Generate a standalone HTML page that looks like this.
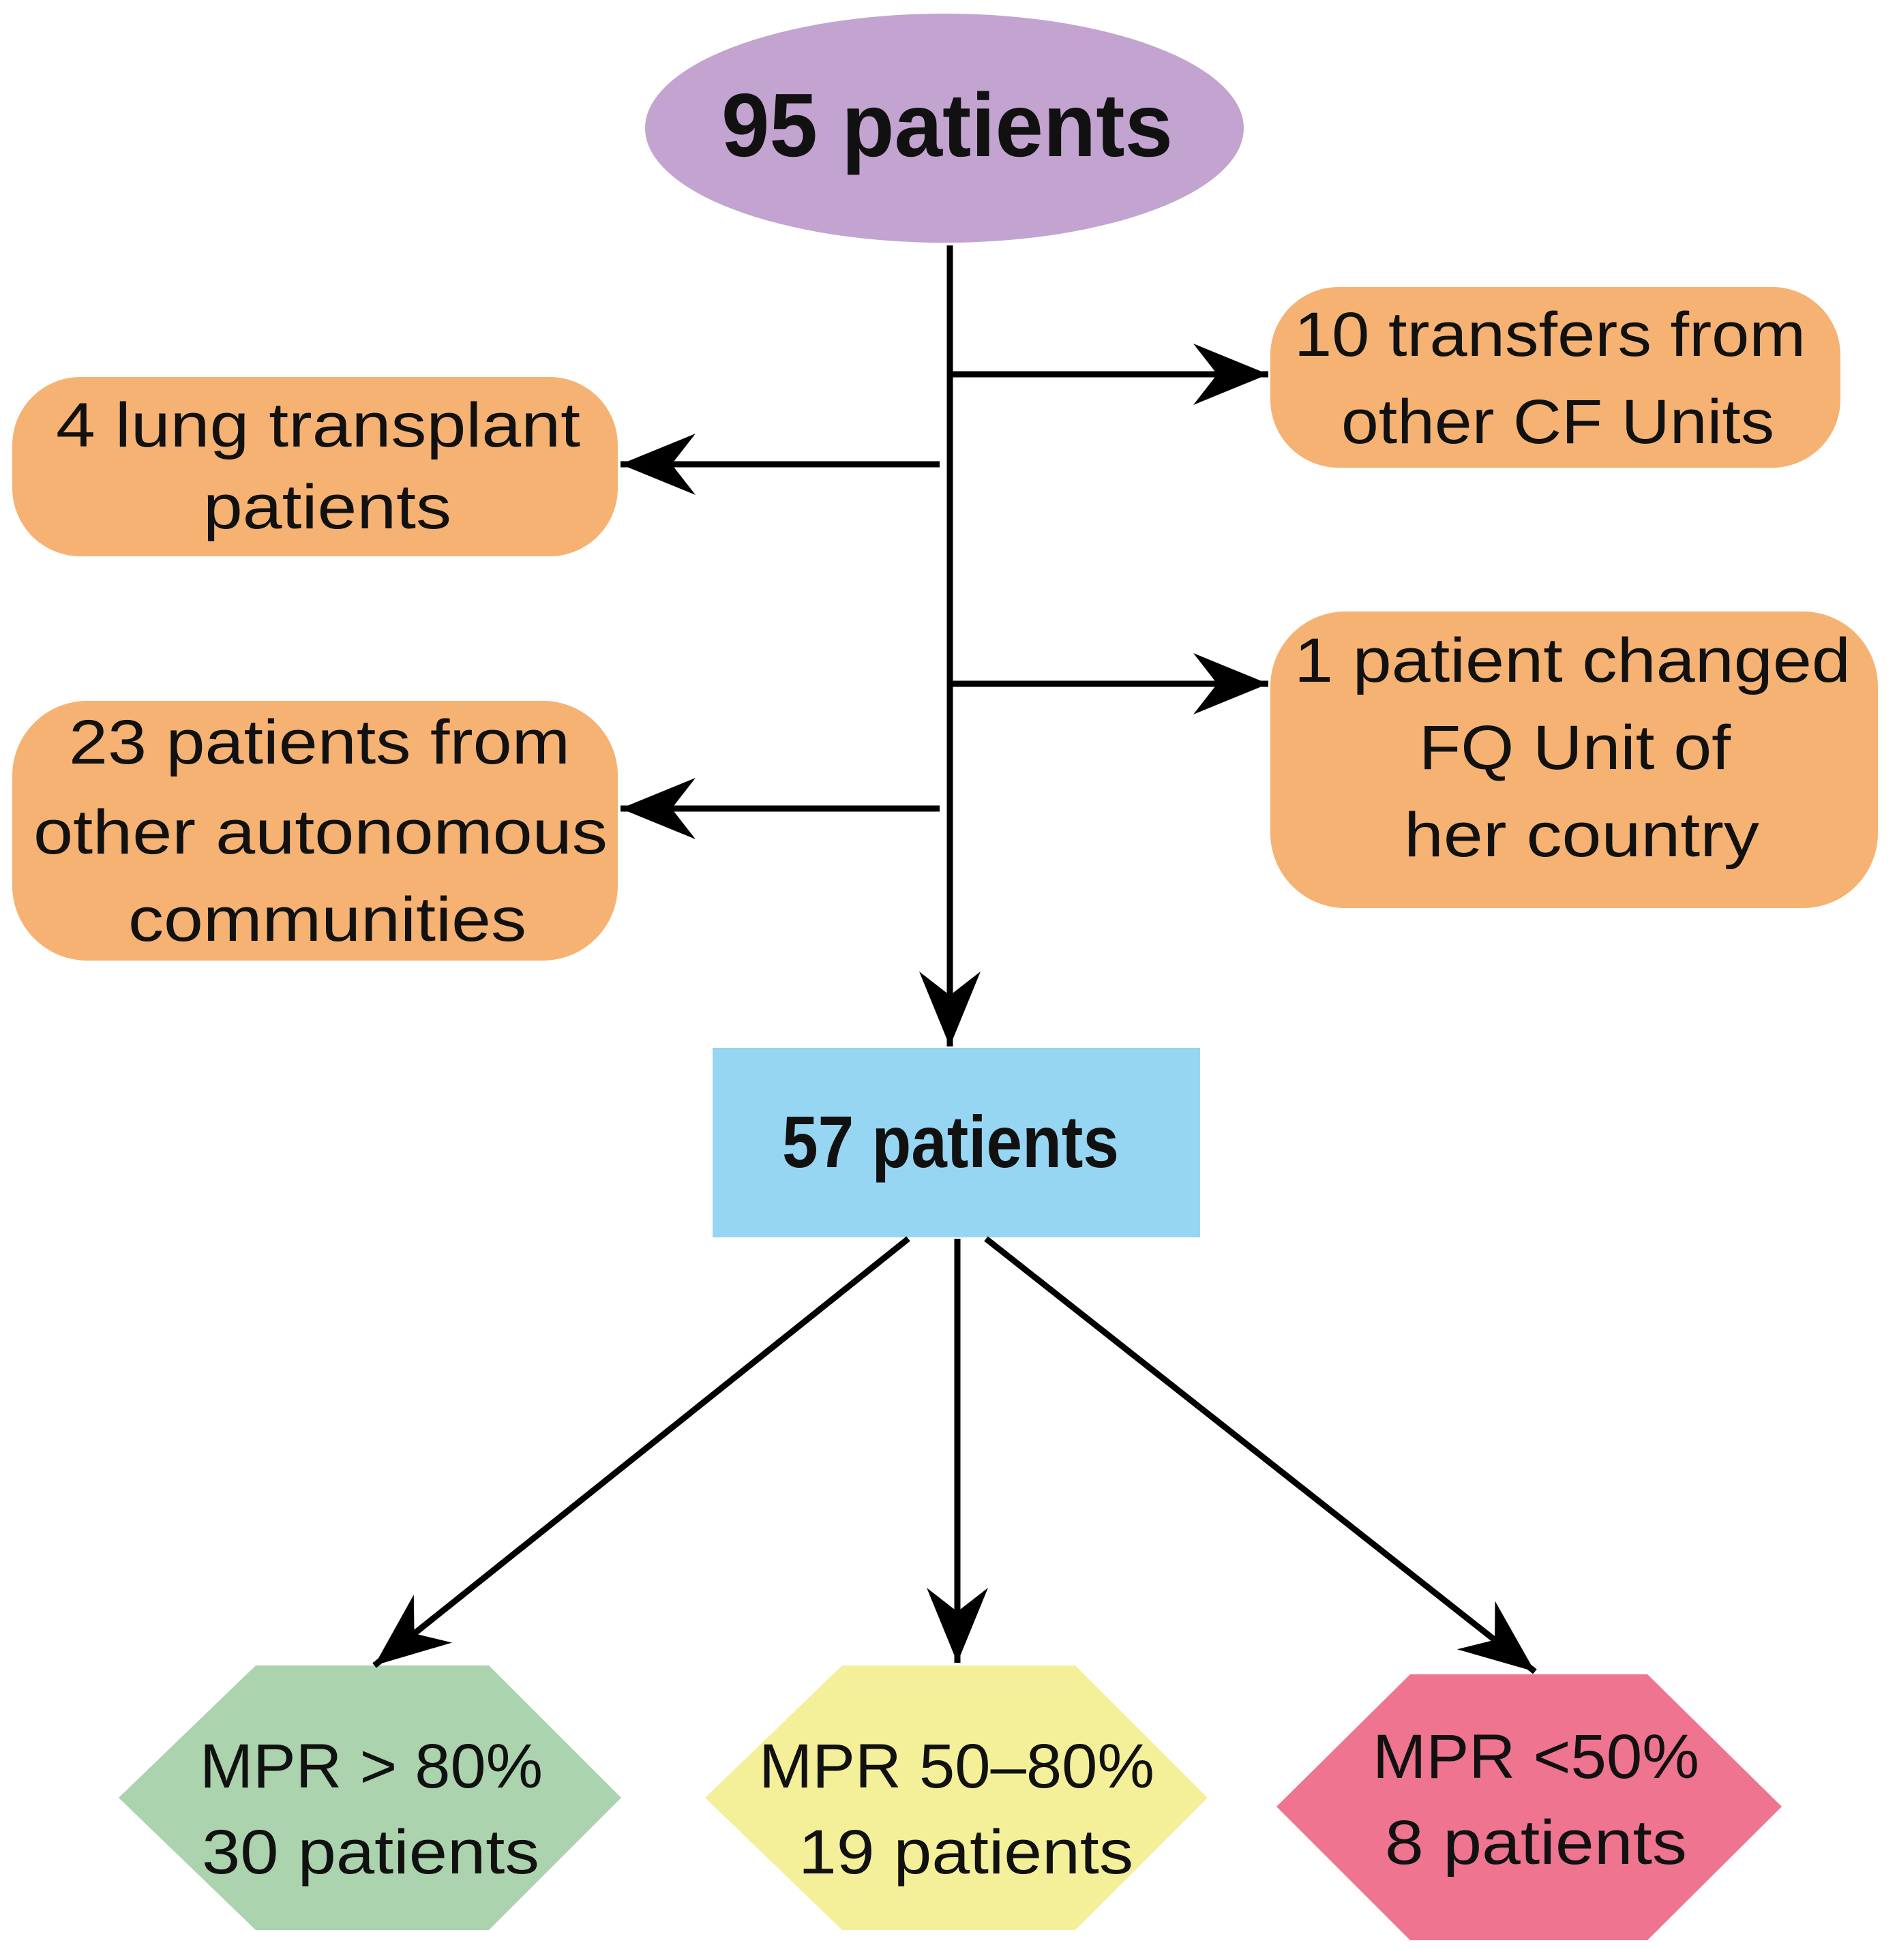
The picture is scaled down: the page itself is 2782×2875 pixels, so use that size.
<!DOCTYPE html>
<html><head><meta charset="utf-8"><style>html,body{margin:0;padding:0;background:#fff}svg{display:block}</style></head>
<body>
<svg width="2782" height="2875" viewBox="0 0 2782 2875" xmlns="http://www.w3.org/2000/svg" font-family="'Liberation Sans', sans-serif">
<defs>
<marker id="ah" markerUnits="userSpaceOnUse" markerWidth="130" markerHeight="110" refX="110" refY="50" orient="auto">
<path d="M110,50 L0,5 L35,50 L0,95 Z" fill="#000"/>
</marker>
</defs>
<ellipse cx="1385" cy="188" rx="439" ry="168" fill="#c3a3cf"/>
<rect x="1863" y="421" width="836" height="265" rx="100" fill="#f5b273"/>
<rect x="18" y="553" width="888" height="263" rx="100" fill="#f5b273"/>
<rect x="1863" y="897" width="891" height="435" rx="110" fill="#f5b273"/>
<rect x="18" y="1028" width="888" height="381" rx="110" fill="#f5b273"/>
<rect x="1045" y="1537" width="715" height="278" fill="#97d6f2"/>
<polygon points="375,2443 717,2443 911,2637 717,2831 375,2831 174,2637" fill="#abd3ad"/>
<polygon points="1235,2443 1577,2443 1771,2637 1577,2831 1235,2831 1034,2637" fill="#f4f099"/>
<polygon points="2068,2456 2416,2456 2613,2650 2416,2846 2068,2846 1872,2650" fill="#ee748f"/>
<g stroke="#000" stroke-width="9" fill="none">
<line x1="1393" y1="360" x2="1393" y2="1535" marker-end="url(#ah)"/>
<line x1="1393" y1="549" x2="1860" y2="549" marker-end="url(#ah)"/>
<line x1="1393" y1="1003" x2="1860" y2="1003" marker-end="url(#ah)"/>
<line x1="1378" y1="681" x2="910" y2="681" marker-end="url(#ah)"/>
<line x1="1378" y1="1186" x2="910" y2="1186" marker-end="url(#ah)"/>
<line x1="1332" y1="1817" x2="549" y2="2443" marker-end="url(#ah)"/>
<line x1="1404" y1="1817" x2="1404" y2="2439" marker-end="url(#ah)"/>
<line x1="1446" y1="1817" x2="2251" y2="2452" marker-end="url(#ah)"/>
</g>
<g fill="#111" lengthAdjust="spacingAndGlyphs">
<text x="1058" y="229" font-size="132" font-weight="bold" textLength="662" lengthAdjust="spacingAndGlyphs">95 patients</text>
<text x="1898" y="522" font-size="92" textLength="750" lengthAdjust="spacingAndGlyphs">10 transfers from</text>
<text x="1967" y="650" font-size="92" textLength="635" lengthAdjust="spacingAndGlyphs">other CF Units</text>
<text x="82" y="655" font-size="92" textLength="769" lengthAdjust="spacingAndGlyphs">4 lung transplant</text>
<text x="298" y="775" font-size="92" textLength="364" lengthAdjust="spacingAndGlyphs">patients</text>
<text x="1898" y="1000" font-size="92" textLength="816" lengthAdjust="spacingAndGlyphs">1 patient changed</text>
<text x="2081" y="1128" font-size="92" textLength="457" lengthAdjust="spacingAndGlyphs">FQ Unit of</text>
<text x="2059" y="1256" font-size="92" textLength="521" lengthAdjust="spacingAndGlyphs">her country</text>
<text x="101" y="1120" font-size="92" textLength="735" lengthAdjust="spacingAndGlyphs">23 patients from</text>
<text x="49" y="1252" font-size="92" textLength="842" lengthAdjust="spacingAndGlyphs">other autonomous</text>
<text x="188" y="1380" font-size="92" textLength="584" lengthAdjust="spacingAndGlyphs">communities</text>
<text x="1147" y="1712" font-size="108" font-weight="bold" textLength="494" lengthAdjust="spacingAndGlyphs">57 patients</text>
<text x="293" y="2622" font-size="92" textLength="503" lengthAdjust="spacingAndGlyphs">MPR &gt; 80%</text>
<text x="296" y="2748" font-size="92" textLength="495" lengthAdjust="spacingAndGlyphs">30 patients</text>
<text x="1113" y="2622" font-size="92" textLength="580" lengthAdjust="spacingAndGlyphs">MPR 50–80%</text>
<text x="1171" y="2748" font-size="92" textLength="491" lengthAdjust="spacingAndGlyphs">19 patients</text>
<text x="2013" y="2608" font-size="92" textLength="479" lengthAdjust="spacingAndGlyphs">MPR &lt;50%</text>
<text x="2031" y="2734" font-size="92" textLength="443" lengthAdjust="spacingAndGlyphs">8 patients</text>
</g>
</svg>
</body></html>
